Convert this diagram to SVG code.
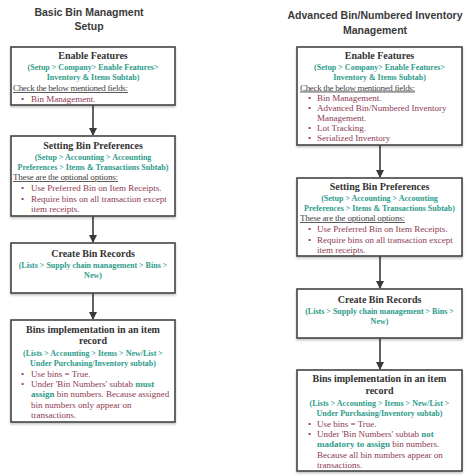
<svg xmlns="http://www.w3.org/2000/svg" width="474" height="476" viewBox="0 0 474 476">
<defs>
<filter id="sh" x="-10%" y="-10%" width="120%" height="130%"><feDropShadow dx="0" dy="1.5" stdDeviation="1.2" flood-color="#000" flood-opacity="0.25"/></filter>
<marker id="ah" markerWidth="8" markerHeight="8" refX="7" refY="4" orient="auto" markerUnits="userSpaceOnUse"><path d="M0,0 L8,4 L0,8 Z" fill="#3a3a3a"/></marker>
</defs>
<style>
.box{fill:#fff;stroke:#444;stroke-width:1.6;filter:url(#sh)}
.hd{font-family:"Liberation Sans",Arial,sans-serif;font-weight:bold;font-size:10.5px;fill:#3a3a3a;text-anchor:middle}
.tt{font-family:"Liberation Serif","Times New Roman",serif;font-weight:bold;font-size:10px;fill:#333;text-anchor:middle}
.pt{font-family:"Liberation Serif","Times New Roman",serif;font-weight:bold;font-size:8px;fill:#2e9c8a;text-anchor:middle}
.ck{font-family:"Liberation Serif","Times New Roman",serif;font-size:9px;fill:#444;text-decoration:underline}
.bl{font-family:"Liberation Serif","Times New Roman",serif;font-size:9px;fill:#8e3a50}
.em{font-weight:bold;fill:#2e9c8a}
.cn{stroke:#3a3a3a;stroke-width:1.6;fill:none;marker-end:url(#ah)}
</style>
<text class="hd" x="89" y="16">Basic Bin Managment</text>
<text class="hd" x="89" y="30">Setup</text>
<text class="hd" x="375" y="19">Advanced Bin/Numbered Inventory</text>
<text class="hd" x="375" y="34">Management</text>
<g id="connectors">
<line class="cn" x1="93" y1="105" x2="93" y2="135"/>
<line class="cn" x1="93" y1="216" x2="93" y2="242"/>
<line class="cn" x1="93" y1="293" x2="93" y2="319"/>
<line class="cn" x1="380" y1="145" x2="380" y2="177"/>
<line class="cn" x1="380" y1="256" x2="380" y2="288"/>
<line class="cn" x1="380" y1="338" x2="380" y2="369"/>
</g>
<g id="l1">
<rect class="box" x="11" y="47" width="164" height="58"/>
<text class="tt" x="93" y="58.5">Enable Features</text>
<text class="pt" x="93" y="70">(Setup &gt; Company&gt; Enable Features&gt;</text>
<text class="pt" x="93" y="80">Inventory &amp; Items Subtab)</text>
<text class="ck" x="13" y="91" textLength="115">Check the below mentioned fields:</text>
<text class="bl" x="21" y="102">•</text><text class="bl" x="31" y="102">Bin Management.</text>
</g>
<g id="l2">
<rect class="box" x="11" y="136" width="164" height="80"/>
<text class="tt" x="93" y="148.5">Setting Bin Preferences</text>
<text class="pt" x="93" y="160">(Setup &gt; Accounting &gt; Accounting</text>
<text class="pt" x="93" y="170">Preferences &gt; Items &amp; Transactions Subtab)</text>
<text class="ck" x="13" y="180" textLength="105">These are the optional options:</text>
<text class="bl" x="21" y="191">•</text><text class="bl" x="31" y="191">Use Preferred Bin on Item Receipts.</text>
<text class="bl" x="21" y="202">•</text><text class="bl" x="31" y="202">Require bins on all transaction except</text>
<text class="bl" x="31" y="212">item receipts.</text>
</g>
<g id="l3">
<rect class="box" x="11" y="243" width="164" height="50"/>
<text class="tt" x="93" y="256.5">Create Bin Records</text>
<text class="pt" x="93" y="268">(Lists &gt; Supply chain management &gt; Bins &gt;</text>
<text class="pt" x="93" y="278">New)</text>
</g>
<g id="l4">
<rect class="box" x="11" y="320" width="164" height="102"/>
<text class="tt" x="93" y="332.5">Bins implementation in an item</text>
<text class="tt" x="93" y="344">record</text>
<text class="pt" x="93" y="356">(Lists &gt; Accounting &gt; Items &gt; New/List &gt;</text>
<text class="pt" x="93" y="366">Under Purchasing/Inventory subtab)</text>
<text class="bl" x="21" y="377">•</text><text class="bl" x="31" y="377">Use bins = True.</text>
<text class="bl" x="21" y="387">•</text><text class="bl" x="31" y="387">Under 'Bin Numbers' subtab <tspan class="em">must</tspan></text>
<text class="bl" x="31" y="397"><tspan class="em">assign</tspan> bin numbers. Because assigned</text>
<text class="bl" x="31" y="408">bin numbers only appear on</text>
<text class="bl" x="31" y="418">transactions.</text>
</g>
<g id="r1">
<rect class="box" x="297" y="47" width="165" height="98"/>
<text class="tt" x="379.5" y="58.5">Enable Features</text>
<text class="pt" x="379.5" y="70">(Setup &gt; Company&gt; Enable Features&gt;</text>
<text class="pt" x="379.5" y="80">Inventory &amp; Items Subtab)</text>
<text class="ck" x="300" y="90.5" textLength="115">Check the below mentioned fields:</text>
<text class="bl" x="308" y="101">•</text><text class="bl" x="317" y="101">Bin Management.</text>
<text class="bl" x="308" y="111">•</text><text class="bl" x="317" y="111">Advanced Bin/Numbered Inventory</text>
<text class="bl" x="317" y="121">Management.</text>
<text class="bl" x="308" y="131">•</text><text class="bl" x="317" y="131">Lot Tracking.</text>
<text class="bl" x="308" y="141">•</text><text class="bl" x="317" y="141">Serialized Inventory</text>
</g>
<g id="r2">
<rect class="box" x="297" y="178" width="165" height="78"/>
<text class="tt" x="379.5" y="189.5">Setting Bin Preferences</text>
<text class="pt" x="379.5" y="201">(Setup &gt; Accounting &gt; Accounting</text>
<text class="pt" x="379.5" y="211">Preferences &gt; Items &amp; Transactions Subtab)</text>
<text class="ck" x="300" y="221" textLength="105">These are the optional options:</text>
<text class="bl" x="308" y="232">•</text><text class="bl" x="317" y="232">Use Preferred Bin on Item Receipts.</text>
<text class="bl" x="308" y="243">•</text><text class="bl" x="317" y="243">Require bins on all transaction except</text>
<text class="bl" x="317" y="253">item receipts.</text>
</g>
<g id="r3">
<rect class="box" x="297" y="289" width="165" height="49"/>
<text class="tt" x="379.5" y="302.5">Create Bin Records</text>
<text class="pt" x="379.5" y="314">(Lists &gt; Supply chain management &gt; Bins &gt;</text>
<text class="pt" x="379.5" y="324">New)</text>
</g>
<g id="r4">
<rect class="box" x="297" y="370" width="165" height="101"/>
<text class="tt" x="379.5" y="381.5">Bins implementation in an item</text>
<text class="tt" x="379.5" y="394">record</text>
<text class="pt" x="379.5" y="406">(Lists &gt; Accounting &gt; Items &gt; New/List &gt;</text>
<text class="pt" x="379.5" y="416">Under Purchasing/Inventory subtab)</text>
<text class="bl" x="308" y="427">•</text><text class="bl" x="317" y="427">Use bins = True.</text>
<text class="bl" x="308" y="437">•</text><text class="bl" x="317" y="437">Under 'Bin Numbers' subtab <tspan class="em">not</tspan></text>
<text class="bl" x="317" y="447"><tspan class="em">madatory to assign</tspan> bin numbers.</text>
<text class="bl" x="317" y="458">Because all bin numbers  appear on</text>
<text class="bl" x="317" y="468">transactions.</text>
</g>
</svg>
